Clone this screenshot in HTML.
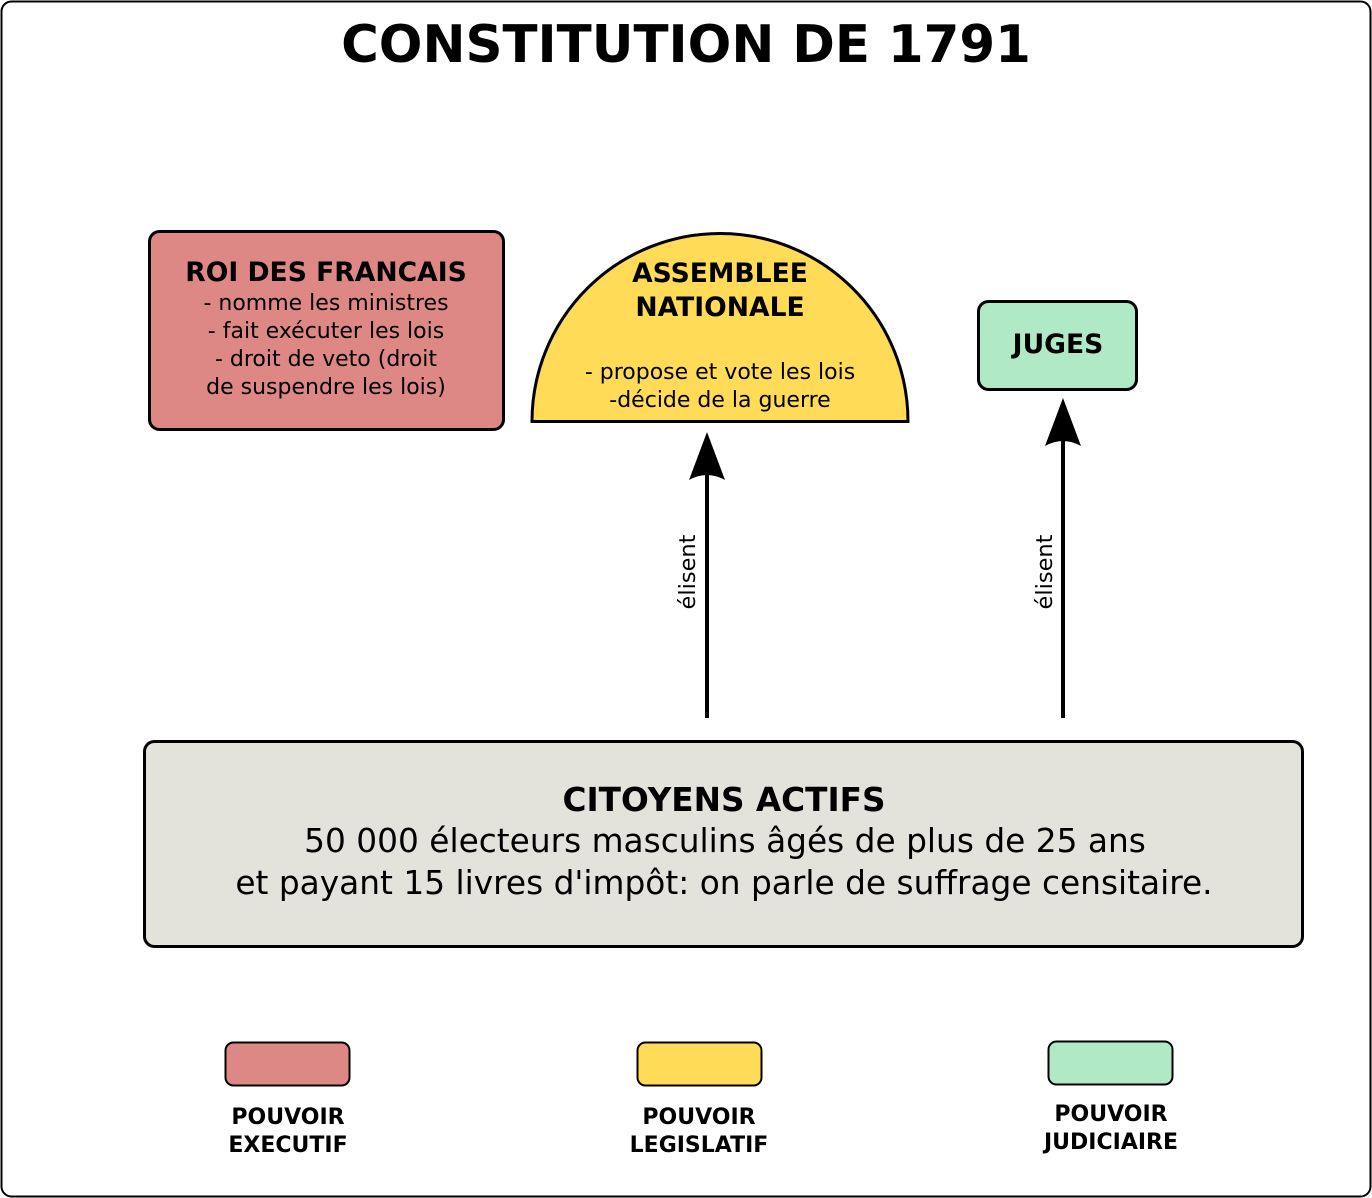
<!DOCTYPE html>
<html><head><meta charset="utf-8"><style>html,body{margin:0;padding:0;background:#fff}svg{display:block}</style></head>
<body>
<svg width="1372" height="1198" viewBox="0 0 1372 1198" xmlns="http://www.w3.org/2000/svg" font-family="DejaVu Sans, sans-serif">
<rect x="1.5" y="1.5" width="1369" height="1195" rx="10" fill="#fff" stroke="#000" stroke-width="2"/>
<text x="686" y="62" text-anchor="middle" font-weight="bold" font-size="51.4">CONSTITUTION DE 1791</text>

<rect x="149.5" y="231.5" width="354" height="198" rx="10" fill="#de8885" stroke="#000" stroke-width="3"/>
<g text-anchor="middle">
<text x="326" y="281" font-weight="bold" font-size="26.6">ROI DES FRANCAIS</text>
<text x="326" y="310" font-size="22">- nomme les ministres</text>
<text x="326" y="338" font-size="22">- fait exécuter les lois</text>
<text x="326" y="366" font-size="22">- droit de veto (droit</text>
<text x="326" y="394" font-size="22">de suspendre les lois)</text>
</g>

<path d="M532,421.5 A188,188 0 0 1 908,421.5 Z" fill="#ffdb58" stroke="#000" stroke-width="3"/>
<g text-anchor="middle">
<text x="720" y="282" font-weight="bold" font-size="26.6">ASSEMBLEE</text>
<text x="720" y="316" font-weight="bold" font-size="26.6">NATIONALE</text>
<text x="720" y="379" font-size="22">- propose et vote les lois</text>
<text x="720" y="407" font-size="22">-décide de la guerre</text>
</g>

<rect x="978.5" y="301.5" width="158" height="88" rx="10" fill="#afe9c6" stroke="#000" stroke-width="3"/>
<text x="1058" y="353" text-anchor="middle" font-weight="bold" font-size="26.6">JUGES</text>

<line x1="707" y1="718" x2="707" y2="470" stroke="#000" stroke-width="4"/>
<path d="M707,432 L725,480 Q707,470 689,480 Z" fill="#000"/>
<line x1="1063" y1="718" x2="1063" y2="436" stroke="#000" stroke-width="4"/>
<path d="M1063,398 L1081,446 Q1063,436 1045,446 Z" fill="#000"/>
<text transform="translate(695,572) rotate(-90)" text-anchor="middle" font-size="22.5">élisent</text>
<text transform="translate(1052,572) rotate(-90)" text-anchor="middle" font-size="22.5">élisent</text>

<rect x="144.5" y="741.5" width="1158" height="205" rx="10" fill="#e3e2db" stroke="#000" stroke-width="3"/>
<g text-anchor="middle">
<text x="724" y="811" font-weight="bold" font-size="32.7">CITOYENS ACTIFS</text>
<text x="725" y="852" font-size="32.8">50 000 électeurs masculins âgés de plus de 25 ans</text>
<text x="724" y="894" font-size="32.8">et payant 15 livres d'impôt: on parle de suffrage censitaire.</text>
</g>

<rect x="225.5" y="1042.5" width="124" height="43" rx="8" fill="#de8885" stroke="#000" stroke-width="2"/>
<rect x="637.5" y="1042.5" width="124" height="43" rx="8" fill="#ffdb58" stroke="#000" stroke-width="2"/>
<rect x="1048.5" y="1041.5" width="124" height="43" rx="8" fill="#afe9c6" stroke="#000" stroke-width="2"/>
<g text-anchor="middle" font-weight="bold" font-size="22">
<text x="288" y="1124">POUVOIR</text>
<text x="288" y="1152">EXECUTIF</text>
<text x="699" y="1124">POUVOIR</text>
<text x="699" y="1152">LEGISLATIF</text>
<text x="1111" y="1121">POUVOIR</text>
<text x="1111" y="1149">JUDICIAIRE</text>
</g>
</svg>
</body></html>
